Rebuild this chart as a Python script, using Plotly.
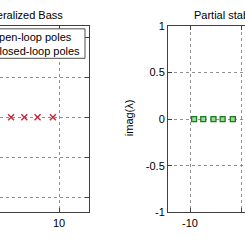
import plotly.graph_objects as go

# ---- data ----
open_loop_real = [5.3, 6.6, 7.9, 9.4]
open_loop_imag = [0, 0, 0, 0]
closed_loop_real = [-9.6, -8.7, -7.7, -6.8, -5.8]
closed_loop_imag = [0, 0, 0, 0, 0]
left_title = "Generalized Bass"
right_title = "Partial stabilization"
legend_labels = ["open-loop poles", "closed-loop poles"]
right_yticks = [-1, -0.5, 0, 0.5, 1]
right_yticklabels = ["-1", "-0.5", "0", "0.5", "1"]
right_xticks = [-10, -5]
right_xticklabels = ["-10", "-5"]
left_xticks = [10]
left_xticklabels = ["10"]
left_yticks = [-2, -1, 0, 1, 2]

W = H = 245
FONT = "Liberation Sans, Arial, sans-serif"
GRID = "#909090"
AX = "#404040"

def px(x):
    return x / W

def py(y):
    return 1 - y / H

# left axes geometry
L_right = 89
s_left = 10.2
left_xrange = [10 - 59 / s_left, 10 + 30 / s_left]
top, bottom = 21, 217
zero_left = 117
u_left = 42
left_yrange = [-(bottom - zero_left) / u_left, (zero_left - top) / u_left]

# right axes geometry
R_left = 168
s_right = 10.2
right_xrange = [-10 - (190 - R_left) / s_right, -10 + (W - 190) / s_right]

fig = go.Figure()
fig.add_trace(go.Scatter(
    x=open_loop_real, y=open_loop_imag, mode="markers",
    marker=dict(symbol="x-thin-open", size=6, color="#c8283c",
                line=dict(color="#c8283c", width=1.4)),
    xaxis="x", yaxis="y", showlegend=False))
fig.add_trace(go.Scatter(
    x=closed_loop_real, y=closed_loop_imag, mode="markers",
    marker=dict(symbol="square", size=5, color="#9ad89a", line=dict(color="#1e7a1e", width=1.3)),
    xaxis="x2", yaxis="y2", showlegend=False))

common_grid = dict(showgrid=True, gridcolor=GRID, griddash="dot", gridwidth=1,
                   zeroline=False, linecolor=AX, linewidth=1, tickcolor=AX,
                   ticks="inside", ticklen=4,
                   tickfont=dict(family=FONT, size=11, color="black"))

fig.update_layout(
    width=W, height=H, margin=dict(l=0, r=0, t=0, b=0),
    paper_bgcolor="white", plot_bgcolor="white",
    xaxis=dict(domain=[0, px(L_right)], range=left_xrange, anchor="y",
               tickvals=left_xticks, ticktext=left_xticklabels,
               showline=True, mirror="ticks", **common_grid),
    yaxis=dict(domain=[py(bottom), py(top)], range=left_yrange, anchor="x",
               side="right", tickvals=left_yticks, showticklabels=False,
               showline=True, mirror=False, **common_grid),
    xaxis2=dict(domain=[px(R_left), 1], range=right_xrange, anchor="y2",
                tickvals=right_xticks, ticktext=right_xticklabels,
                showline=True, mirror="ticks", **common_grid),
    yaxis2=dict(domain=[py(bottom), py(top)], range=[-1, 1], anchor="x2",
                tickvals=right_yticks, ticktext=right_yticklabels,
                showline=True, mirror=False, **common_grid),
)

# legend box (partially off-canvas, as in the reference)
fig.add_shape(type="rect", xref="paper", yref="paper",
              x0=px(-12), x1=px(85), y0=py(55), y1=py(24),
              line=dict(color="#505050", width=1), fillcolor="white", layer="above")
fig.add_annotation(text=legend_labels[0], xref="paper", yref="paper",
                   x=px(73.5), y=py(33), xanchor="right", yanchor="middle",
                   showarrow=False, font=dict(family=FONT, size=11, color="black"))
fig.add_annotation(text=legend_labels[1], xref="paper", yref="paper",
                   x=px(81.5), y=py(47), xanchor="right", yanchor="middle",
                   showarrow=False, font=dict(family=FONT, size=11, color="black"))

# titles
fig.add_annotation(text=left_title, xref="paper", yref="paper",
                   x=px(64.5), y=py(9), xanchor="right", yanchor="middle",
                   showarrow=False, font=dict(family=FONT, size=11, color="black"))
fig.add_annotation(text=right_title, xref="paper", yref="paper",
                   x=px(191.5), y=py(9), xanchor="left", yanchor="middle",
                   showarrow=False, font=dict(family=FONT, size=11, color="black"))

# y label of right axes
fig.add_annotation(text="imag(λ)", xref="paper", yref="paper",
                   x=px(129), y=py(118), xanchor="center", yanchor="middle",
                   textangle=-90, showarrow=False,
                   font=dict(family=FONT, size=11, color="black"))

fig.write_html("out.html")
